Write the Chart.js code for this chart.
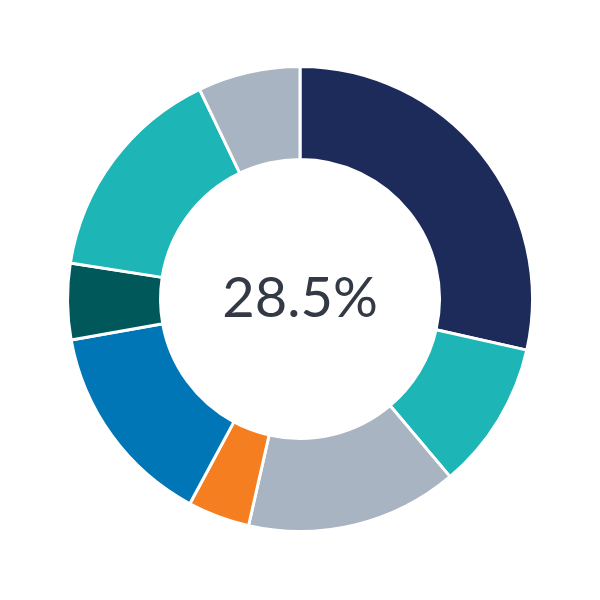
<!DOCTYPE html>
<html>
<head>
<meta charset="utf-8">
<script src="https://cdn.jsdelivr.net/npm/chart.js@4/dist/chart.umd.min.js"></script>
<style>
  html, body { margin: 0; padding: 0; background: #fff; }
  #wrap { width: 600px; height: 600px; }
</style>
</head>
<body>
<div id="wrap"><canvas id="donutChart"></canvas></div>
<script>
// slice values, clockwise from the top
const categories = ['A', 'B', 'C', 'D', 'E', 'F', 'G', 'H'];
const values = [28.5, 10.3, 14.7, 4.3, 14.3, 5.3, 15.4, 7.1];
const sliceColors = ['#1c2b5a', '#1db5b6', '#a9b4c2', '#f47e20', '#0076b6', '#00585a', '#1db5b6', '#a9b4c2'];
const centerLabel = '28.5%';

// texte au centre
const centerText = {
    id: 'centerText',
    afterDraw: function(chart) {
        const meta = chart.getDatasetMeta(0).data[0];
        const ctx = chart.ctx;
        ctx.save();
        ctx.font = '400 56px Lato';
        ctx.fillStyle = '#333a45';
        ctx.textAlign = 'center';
        ctx.textBaseline = 'middle';
        ctx.fillText(centerLabel, meta.x, meta.y);
        ctx.restore();
    }
};

new Chart(document.getElementById('donutChart'), {
    type: 'doughnut',
    data: {
        labels: categories,
        datasets: [{
            data: values,
            backgroundColor: sliceColors,
            borderColor: '#ffffff',
            borderWidth: 3
        }]
    },
    options: {
        responsive: true,
        maintainAspectRatio: false,
        animation: false,
        cutout: '60%',
        layout: {
            padding: { top: 65, bottom: 67, left: 66, right: 66 }
        },
        plugins: {
            legend: { display: false },
            tooltip: { enabled: false }
        }
    },
    plugins: [centerText]
});
</script>
</body>
</html>
